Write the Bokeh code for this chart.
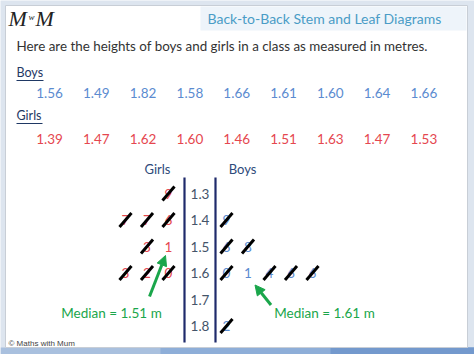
from bokeh.plotting import figure
from bokeh.models import Range1d, Arrow, NormalHead
from bokeh.core.properties import value
from bokeh.embed import file_html
from bokeh.resources import INLINE

# ---------------- data ----------------
title = "Back-to-Back Stem and Leaf Diagrams"
subtitle = "Here are the heights of boys and girls in a class as measured in metres."
boys = [1.56, 1.49, 1.82, 1.58, 1.66, 1.61, 1.60, 1.64, 1.66]
girls = [1.39, 1.47, 1.62, 1.60, 1.46, 1.51, 1.63, 1.47, 1.53]
stems = [13, 14, 15, 16, 17, 18]
stem_labels = ["1.3", "1.4", "1.5", "1.6", "1.7", "1.8"]
girls_median = 1.51
boys_median = 1.61
girls_median_label = "Median = 1.51 m"
boys_median_label = "Median = 1.61 m"

FONT = "Lato"
W, H = 474, 354
p = figure(width=W, height=H, output_backend="svg", toolbar_location=None,
           x_range=Range1d(0, W), y_range=Range1d(H, 0), min_border=0,
           background_fill_color="#dde5ef", border_fill_color="#dde5ef")
p.axis.visible = False
p.grid.visible = False
p.outline_line_color = None

# background frame / panel
p.quad(left=[0], right=[W], top=[347], bottom=[H], fill_color="#a9c0de", line_color=None)
p.quad(left=[160], right=[W], top=[347], bottom=[H], fill_color="#8eaed8", line_color=None)
p.quad(left=[330], right=[W], top=[347], bottom=[H], fill_color="#7399cd", line_color=None)
p.quad(left=[5], right=[467], top=[5], bottom=[347], fill_color="white",
       line_color="#c8ced6", line_width=1)
# title box
p.quad(left=[200], right=[466], top=[6], bottom=[30], fill_color="#eef4fa", line_color=None)

def txt(x, y, t, size, color, align="left", font=FONT, style="normal"):
    p.text(x=[x], y=[y], text=[t], text_font=value(font), text_font_size=f"{size}px",
           text_color=color, text_align=align, text_baseline="middle", text_font_style=style)

# logo
txt(8, 18, "M", 22, "#222222", font="Liberation Serif", style="italic")
txt(28, 16, "w", 9, "#222222", font="Liberation Serif", style="italic")
txt(35, 18, "M", 22, "#222222", font="Liberation Serif", style="italic")

txt(324, 18, title, 14, "#4a9cc6", align="center")
txt(16, 45, subtitle, 13.4, "#333333")

NAVY = "#1f3864"
BLUE = "#5b8bd0"
RED = "#e5474f"
# raw value rows
txt(16, 72, "Boys", 12.5, NAVY)
p.segment(x0=[16], y0=[80], x1=[43], y1=[80], line_color=NAVY, line_width=1)
txt(16, 115, "Girls", 12.5, NAVY)
p.segment(x0=[16], y0=[123], x1=[42], y1=[123], line_color=NAVY, line_width=1)

row_x = [49 + i * 46.8 for i in range(len(boys))]
p.text(x=row_x, y=[92] * len(boys), text=[f"{v:.2f}" for v in boys],
       text_font=value(FONT), text_font_size="13.5px", text_color=BLUE,
       text_align="center", text_baseline="middle")
p.text(x=row_x, y=[138] * len(girls), text=[f"{v:.2f}" for v in girls],
       text_font=value(FONT), text_font_size="13.5px", text_color=RED,
       text_align="center", text_baseline="middle")

# stem and leaf
stem_x = 199.5
stem_y0, stem_dy = 193, 26.5
leaf_dx = 21.5
stem_y = {s: stem_y0 + i * stem_dy for i, s in enumerate(stems)}

txt(157, 168, "Girls", 13, "#2e4a7a", align="center")
txt(242, 168, "Boys", 13, "#2e4a7a", align="center")
p.segment(x0=[184, 215], y0=[177, 177], x1=[184, 215], y1=[342, 342],
          line_color="#1f2a6b", line_width=2.2)
p.text(x=[stem_x] * len(stems), y=[stem_y[s] for s in stems], text=stem_labels,
       text_font=value(FONT), text_font_size="13.5px", text_color="#44546a",
       text_align="center", text_baseline="middle")

def leaves(values, side, color, median):
    xs, ys, ts, cross = [], [], [], []
    groups = {}
    for v in sorted(values):
        n = int(round(v * 100))
        groups.setdefault(n // 10, []).append((n % 10, v))
    mpos = None
    for s, lst in groups.items():
        for k, (lf, v) in enumerate(lst):
            x = (168 - k * leaf_dx) if side == "L" else (226 + k * leaf_dx)
            y = stem_y[s]
            xs.append(x); ys.append(y); ts.append(str(lf))
            if abs(v - median) < 1e-9 and mpos is None:
                mpos = (x, y)
            else:
                cross.append((x, y))
    p.text(x=xs, y=ys, text=ts, text_font=value(FONT), text_font_size="13.5px",
           text_color=color, text_align="center", text_baseline="middle")
    p.segment(x0=[c[0] - 6 for c in cross], y0=[c[1] + 7 for c in cross],
              x1=[c[0] + 6 for c in cross], y1=[c[1] - 7 for c in cross],
              line_color="black", line_width=3)
    return mpos

gm = leaves(girls, "L", RED, girls_median)
bm = leaves(boys, "R", BLUE, boys_median)

GREEN = "#1aa64b"
p.add_layout(Arrow(x_start=gm[0] - 19, y_start=gm[1] + 50, x_end=gm[0] - 3, y_end=gm[1] + 9,
                   line_color=GREEN, line_width=3,
                   end=NormalHead(size=10, fill_color=GREEN, line_color=GREEN)))
p.add_layout(Arrow(x_start=bm[0] + 23, y_start=bm[1] + 32, x_end=bm[0] + 7, y_end=bm[1] + 12,
                   line_color=GREEN, line_width=3,
                   end=NormalHead(size=10, fill_color=GREEN, line_color=GREEN)))
txt(111, 312, girls_median_label, 13.5, GREEN, align="center")
txt(324, 312, boys_median_label, 13.5, GREEN, align="center")

txt(8, 343, "\u00a9 Maths with Mum", 8, "#444444", font="Liberation Sans")

open("out.html", "w").write(file_html(p, INLINE))
